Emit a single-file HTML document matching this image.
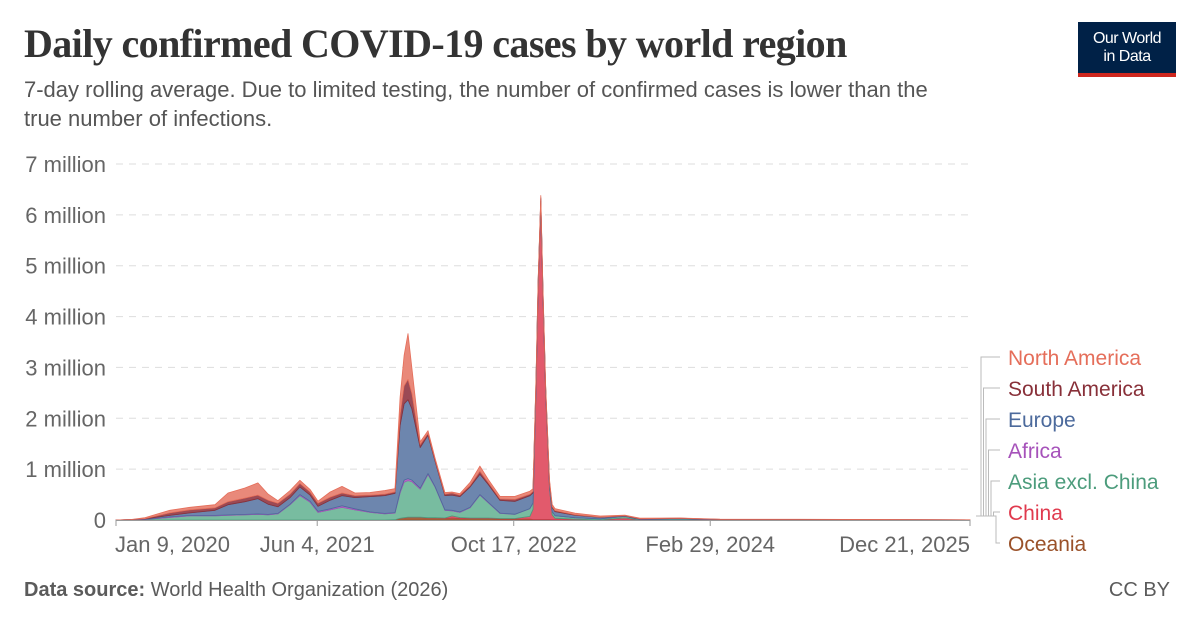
<!DOCTYPE html>
<html><head><meta charset="utf-8">
<style>
body{margin:0;background:#fff;width:1200px;height:627px;overflow:hidden;font-family:"Liberation Sans",sans-serif;}
.t{position:absolute;}
</style></head><body>
<div class="t" style="left:24px;top:20px;font-family:'Liberation Serif',serif;font-weight:bold;font-size:40px;color:#333;letter-spacing:-0.6px;white-space:nowrap;">Daily confirmed COVID-19 cases by world region</div>
<div class="t" style="left:24px;top:75px;font-size:22px;line-height:29px;color:#555;width:930px;">7-day rolling average. Due to limited testing, the number of confirmed cases is lower than the true number of infections.</div>
<div class="t" style="left:1078px;top:22px;width:98px;height:55px;background:#002147;color:#fff;font-size:16px;line-height:18px;text-align:center;box-sizing:border-box;padding-top:8px;border-bottom:4px solid #ce261e;letter-spacing:-0.5px;">Our World<br>in Data</div>
<svg class="t" style="left:0;top:0" width="1200" height="627" id="chart"></svg>
<div class="t" style="left:24px;top:579px;font-size:20px;color:#5b5b5b;white-space:nowrap;"><b>Data source:</b> World Health Organization (2026)</div>
<div class="t" style="right:30px;top:579px;font-size:20px;color:#5b5b5b;">CC BY</div>
<script>
const days=[0,36,74,137,188,252,285,328,361,387,412,443,468,494,514,545,575,608,646,684,710,723,733,743,753,774,794,812,837,855,875,901,926,947,977,1015,1053,1061,1069,1074,1081,1086,1093,1103,1110,1117,1168,1232,1295,1333,1435,1537,1740,1969,2173];
const oceania=[0,0,0,0,0,0,0,0,0,0,0,0,0,0,0,0,0,0,0,0,.005,.03,.04,.05,.05,.05,.04,.04,.03,.04,.03,.03,.03,.03,.02,.02,.02,.01,.01,.01,.01,.01,.01,.01,.005,.005,.005,.003,.002,0,0,0,0,0,0];
const china=[0,.003,0,0,0,0,0,0,0,0,0,0,0,0,0,0,0,0,0,0,0,.003,.005,.005,.005,.005,.005,.005,.01,.04,.02,.01,.01,.01,.01,.01,.05,.2,2.6,4.5,6.2,4.5,2.5,.6,.1,.03,.01,0,.04,0,0,0,0,0,0];
const asia=[0,.002,.01,.05,.08,.08,.09,.1,.11,.1,.12,.3,.48,.35,.15,.2,.25,.2,.15,.12,.13,.5,.7,.72,.7,.55,.85,.6,.15,.1,.1,.2,.45,.3,.1,.08,.15,.12,.1,.08,.06,.06,.06,.06,.06,.05,.03,.02,.03,.01,.02,.005,.005,.005,.001];
const africa=[0,0,.002,.01,.01,.01,.01,.01,.01,.01,.01,.01,.02,.02,.02,.02,.03,.02,.01,.01,.01,.03,.04,.04,.03,.02,.02,.01,.01,.01,.01,.01,.01,.01,.005,.005,.005,.005,0,0,0,0,0,0,0,0,0,0,0,0,0,0,0,0,0];
const europe=[0,.002,.01,.03,.05,.1,.2,.25,.3,.2,.13,.13,.15,.12,.1,.17,.2,.22,.3,.35,.38,1.3,1.5,1.55,1.4,.8,.75,.5,.28,.3,.3,.4,.4,.35,.25,.25,.25,.2,.1,.05,.05,.05,.05,.06,.08,.08,.05,.03,.01,.01,.01,.005,.005,.003,.001];
const southAmerica=[0,0,.005,.05,.06,.05,.06,.07,.07,.08,.07,.07,.07,.06,.06,.06,.05,.04,.03,.03,.03,.2,.35,.4,.3,.06,.04,.03,.03,.04,.03,.03,.06,.04,.03,.04,.03,.03,.02,.02,.02,.02,.02,.02,.02,.02,.01,.005,.005,.005,.005,.002,.002,0,0];
const northAmerica=[0,.001,.02,.05,.05,.06,.17,.2,.24,.12,.05,.07,.06,.05,.04,.1,.13,.05,.05,.07,.06,.35,.6,.9,.5,.05,.05,.03,.03,.02,.03,.06,.1,.06,.05,.06,.06,.05,.04,.03,.04,.03,.04,.04,.04,.04,.03,.02,.01,.01,.005,.003,.002,.002,.001];
const series=[
 {name:'oceania',v:oceania,fill:'#a4623f',line:'#9a5129'},
 {name:'china',v:china,fill:'#e25a6c',line:'#c83a4c'},
 {name:'asia-excl-china',v:asia,fill:'#78bca0',line:'#4c9c7c'},
 {name:'africa',v:africa,fill:'#b66fc6',line:'#a652ba'},
 {name:'europe',v:europe,fill:'#6d86ae',line:'#4c6a9c'},
 {name:'south-america',v:southAmerica,fill:'#9b4a55',line:'#883039'},
 {name:'north-america',v:northAmerica,fill:'#e9897a',line:'#e56e5a'}];
const yTicks=[0,1,2,3,4,5,6,7];
const yTickLabels=['0','1 million','2 million','3 million','4 million','5 million','6 million','7 million'];
const xTicks=[0,512,1012,1512,2173];
const xTickLabels=['Jan 9, 2020','Jun 4, 2021','Oct 17, 2022','Feb 29, 2024','Dec 21, 2025'];
const legendNames=['North America','South America','Europe','Africa','Asia excl. China','China','Oceania'];
const legendColors=['#e56e5a','#883039','#4c6a9c','#a652ba','#4c9c7c','#e03a4e','#9a5129'];
const X=d=>116+d*(854/2173);
const Y=v=>520-v*(356/7);
const svg=document.getElementById('chart');
const NS='http://www.w3.org/2000/svg';
function mk(tag,attrs){const e=document.createElementNS(NS,tag);for(const k in attrs)e.setAttribute(k,attrs[k]);svg.appendChild(e);return e;}
yTicks.forEach((t,i)=>{
 if(t>0){const l=mk('line',{x1:116,x2:970,y1:Y(t),y2:Y(t),stroke:'#ddd','stroke-dasharray':'7,6'});
 
 }
 const tx=mk('text',{x:106,y:Y(t)+8,'text-anchor':'end','font-size':22,fill:'#666','font-family':'Liberation Sans, sans-serif'});
 tx.textContent=yTickLabels[i];
 
 
});
let base=days.map(()=>0);
series.forEach(s=>{
 const top=base.map((b,i)=>b+s.v[i]);
 let d='M'+days.map((dd,i)=>X(dd).toFixed(1)+','+Y(top[i]).toFixed(1)).join('L');
 for(let i=days.length-1;i>=0;i--)d+='L'+X(days[i]).toFixed(1)+','+Y(base[i]).toFixed(1);
 const p=mk('path',{d:d+'Z',fill:s.fill,stroke:s.line,'stroke-width':0.8,'stroke-linejoin':'round'});
 
 
 base=top;
});
const ax=mk('line',{x1:116,x2:970,y1:520.5,y2:520.5,stroke:'#999'});


xTicks.forEach((t,i)=>{
 const l=mk('line',{x1:X(t),x2:X(t),y1:520,y2:526,stroke:'#999'});
 
 
 const anchor=i==0?'start':(i==xTicks.length-1?'end':'middle');
 const x=i==0?X(t)-1:X(t);
 const tx=mk('text',{x:x,y:552,'text-anchor':anchor,'font-size':22,fill:'#666','font-family':'Liberation Sans, sans-serif'});
 tx.textContent=xTickLabels[i];
 
 
});
legendNames.forEach((n,i)=>{
 const ly=357+i*31;
 const bx=981+i*2.5;
 const ln=mk('path',{d:`M1000,${ly}H${bx}V516H976`,fill:'none',stroke:'#bbb','stroke-width':1});
 
 
 const tx=mk('text',{x:1008,y:ly+8,'font-size':21,fill:legendColors[i],'font-family':'Liberation Sans, sans-serif'});
 tx.textContent=n;
 
 
});
</script>
</body></html>
